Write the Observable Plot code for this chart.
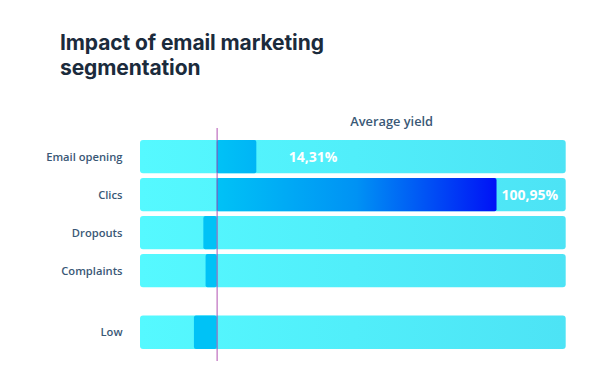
<!DOCTYPE html>
<html><head><meta charset="utf-8">
<script src="https://cdn.jsdelivr.net/npm/d3@7"></script>
<script src="https://cdn.jsdelivr.net/npm/@observablehq/plot@0.6"></script>
<style>
body{margin:0;background:#fff;width:600px;height:383px;overflow:hidden;position:relative;font-family:"Open Sans",sans-serif}
#title{position:absolute;left:60px;top:30px;font-family:Inter,sans-serif;font-weight:700;font-size:21px;line-height:25px;letter-spacing:-0.1px;color:#1b2b3c}
#chart{position:absolute;left:0;top:95px}
</style></head><body>
<div id="title">Impact of email marketing<br>segmentation</div>
<div id="chart"></div>
<script>
const categories = ["Email opening", "Clics", "Dropouts", "Complaints", "Low"];
const groups = ["Engagement", "Engagement", "Engagement", "Engagement", "Bounce"];
const values = [14.31, 100.95, -4.8, -4.0, -8.2];
const valueLabels = ["14,31%", "100,95%", "", "", ""];
const axisLabel = "Average yield";
const xExtent = [-27.65, 125.9];

const groupGap = 0.62;
const half = 0.438;
const data = categories.map((c, i) => ({
  name: c,
  value: values[i],
  label: valueLabels[i],
  pos: i + (groups[i] === "Bounce" ? groupGap : 0)
}));

const W = 600, H = 288, mL = 140, mR = 34.3, mT = 33, mB = 22;
const pxPerUnit = (W - mL - mR) / (xExtent[1] - xExtent[0]);
const fits = d => d.value + (32 + d.label.length * 8 + 8) / pxPerUnit < xExtent[1];
const labelled = data.filter(d => d.label);

const plot = Plot.plot({
  width: W, height: H,
  marginLeft: mL, marginRight: mR, marginTop: mT, marginBottom: mB,
  style: {fontFamily: "'Open Sans', sans-serif", background: "transparent"},
  x: {domain: xExtent, range: [mL, W - mR], axis: null},
  y: {domain: [-0.755, 5.377], range: [mT, H - mB], axis: null},
  marks: [
    Plot.rect(data, {x1: () => xExtent[0], x2: () => xExtent[1], y1: d => d.pos - half, y2: d => d.pos + half, fill: "url(#bgGrad)", rx: 3}),
    Plot.rect(data, {x1: () => 0, x2: "value", y1: d => d.pos - half, y2: d => d.pos + half, fill: "url(#valGrad)", rx: 2}),
    Plot.ruleX([0], {stroke: "#a83ca8", strokeOpacity: 0.6, strokeWidth: 1.5}),
    Plot.text(data, {x: () => xExtent[0], y: "pos", text: "name", textAnchor: "end", dx: -18, fill: "#3a5876", fontSize: 11.2, fontWeight: 600}),
    Plot.text([axisLabel], {x: () => xExtent[1] / 2, frameAnchor: "top", dy: -12, text: d => d, fill: "#3a5876", fontSize: 12.8, fontWeight: 600}),
    Plot.text(labelled.filter(fits), {x: "value", y: "pos", text: "label", textAnchor: "start", dx: 32, fill: "#fff", fontSize: 14, fontWeight: 700}),
    Plot.text(labelled.filter(d => !fits(d)), {x: () => xExtent[1], y: "pos", text: "label", textAnchor: "end", dx: -8, fill: "#fff", fontSize: 14, fontWeight: 700})
  ]
});

const xs = plot.scale("x");
const svg = d3.select(plot);
const defs = svg.insert("defs", ":first-child");
const bg = defs.append("linearGradient").attr("id", "bgGrad").attr("x1", 0).attr("x2", 1).attr("y1", 0).attr("y2", 0);
bg.append("stop").attr("offset", 0).attr("stop-color", "#55f9ff");
bg.append("stop").attr("offset", 1).attr("stop-color", "#4de3f5");
const vg = defs.append("linearGradient").attr("id", "valGrad").attr("gradientUnits", "userSpaceOnUse")
  .attr("x1", xs.apply(0)).attr("x2", xs.apply(d3.max(values))).attr("y1", 0).attr("y2", 0);
vg.append("stop").attr("offset", 0).attr("stop-color", "#00c2f6");
vg.append("stop").attr("offset", 0.5).attr("stop-color", "#0092f4");
vg.append("stop").attr("offset", 1).attr("stop-color", "#0012f6");
document.getElementById("chart").appendChild(plot);
</script>
</body></html>
